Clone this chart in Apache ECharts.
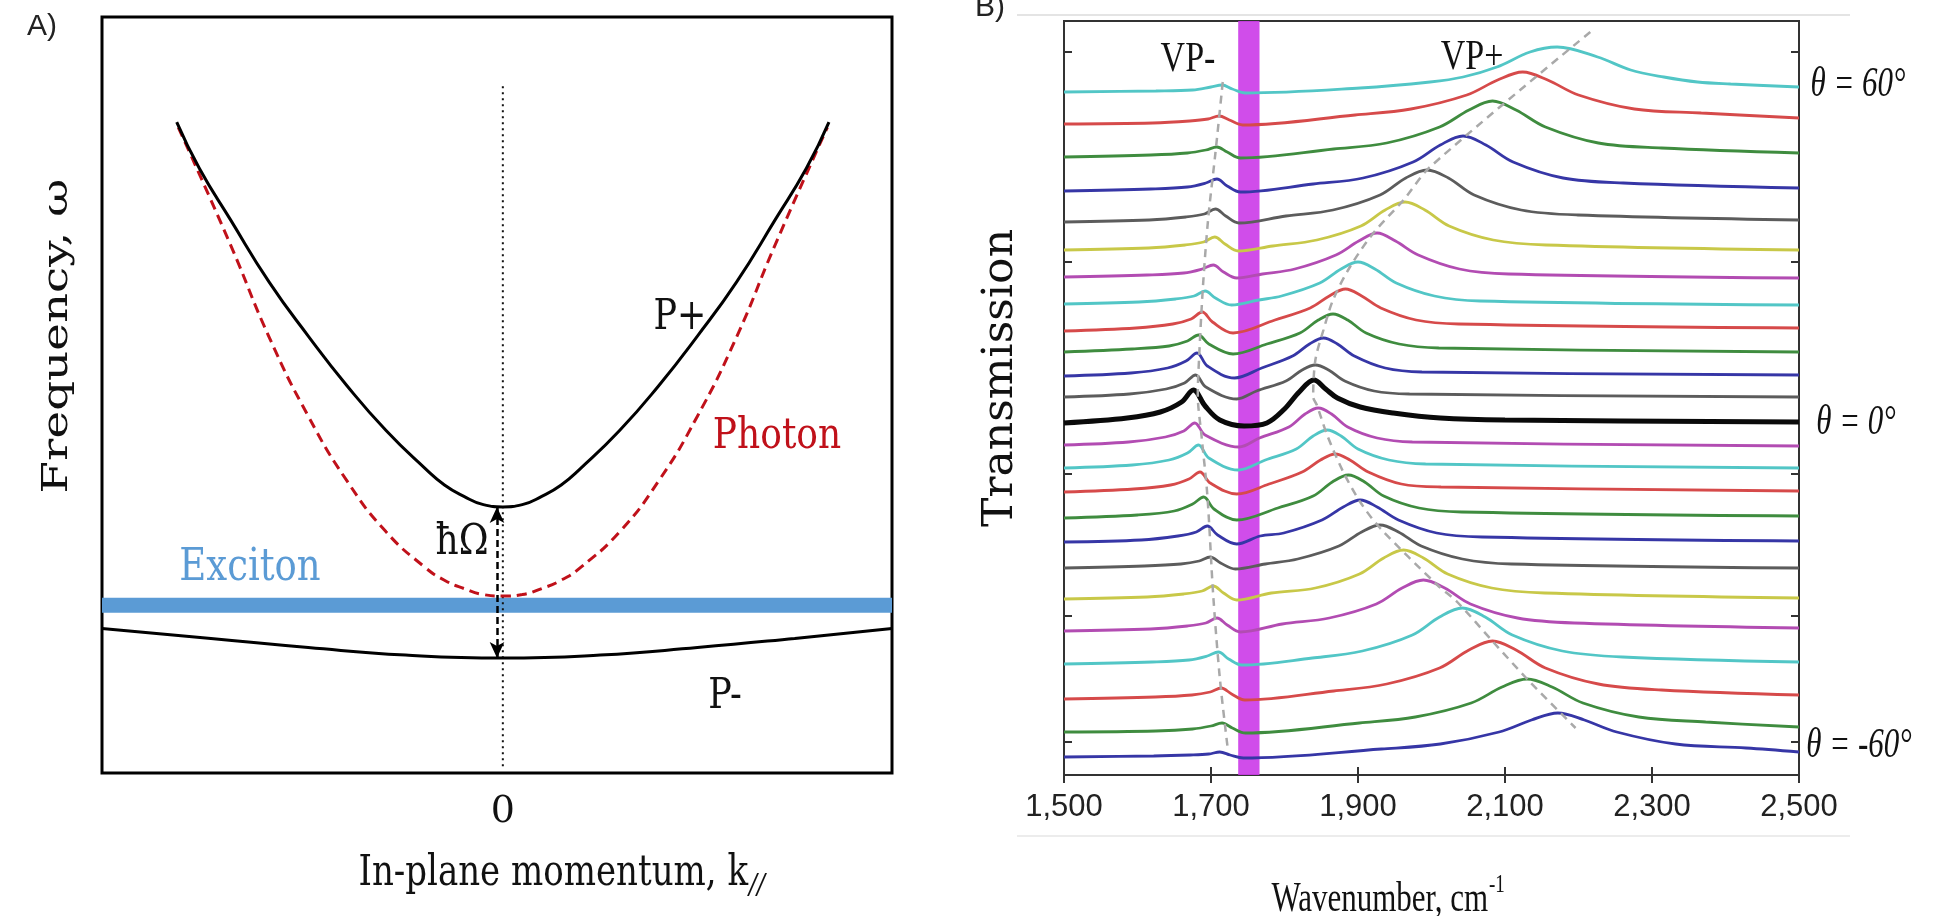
<!DOCTYPE html>
<html>
<head>
<meta charset="utf-8">
<script src="https://cdn.jsdelivr.net/npm/echarts@6.0.0/dist/echarts.min.js"></script>
<style>
  html, body { margin: 0; padding: 0; background: #fff; }
  #chart { width: 1950px; height: 916px; }
</style>
</head>
<body>
<div id="chart"></div>
<script>
// ---- panel A: schematic dispersion (arbitrary units) ----
var plusK = [-0.838, -0.78, -0.7, -0.6, -0.5, -0.4, -0.3, -0.2, -0.15, -0.1, -0.05, 0, 0.05, 0.1, 0.15, 0.2, 0.3, 0.4, 0.5, 0.6, 0.7, 0.78, 0.838];
var plusW = [86.1, 80.0, 73.2, 64.9, 57.8, 51.2, 45.3, 40.3, 38.1, 36.6, 35.5, 35.2, 35.5, 36.6, 38.1, 40.3, 45.3, 51.2, 57.8, 64.9, 73.2, 80.0, 86.1];
var photonK = [-0.834, -0.7, -0.6, -0.5, -0.4, -0.3, -0.2, -0.15, -0.1, -0.05, 0, 0.05, 0.1, 0.15, 0.2, 0.3, 0.4, 0.5, 0.6, 0.7, 0.834];
var photonW = [85.4, 69.9, 57.6, 47.2, 38.6, 31.9, 27.2, 25.5, 24.4, 23.6, 23.4, 23.6, 24.4, 25.5, 27.2, 31.9, 38.6, 47.2, 57.6, 69.9, 85.4];
var minusK = [-1.03, -0.75, -0.5, -0.25, 0, 0.25, 0.5, 0.75, 1];
var minusW = [19.1, 17.8, 16.6, 15.6, 15.2, 15.6, 16.6, 17.8, 19.1];
var excitonW = 22.2;
var rabiK = -0.015;        // the ħΩ arrow, from P+ min down to P- min
var rabiTop = 35.2, rabiBottom = 15.2;

// ---- panel B: transmission spectra, offset per angle ----
var angles = [60, 55, 50, 45, 40, 35, 30, 25, 20, 15, 10, 5, 0, -5, -10, -15, -20, -25, -30, -35, -40, -45, -50, -55, -60];
var colors = ['#52c6c6', '#d64a4a', '#3f8c3f', '#3636a6', '#5c5c5c', '#c8c848', '#b24cb2',
              '#52c6c6', '#d64a4a', '#3f8c3f', '#3636a6', '#5c5c5c', '#0a0a0a', '#b24cb2',
              '#52c6c6', '#d64a4a', '#3f8c3f', '#3636a6', '#5c5c5c', '#c8c848', '#b24cb2',
              '#52c6c6', '#d64a4a', '#3f8c3f', '#3636a6'];

var s60 = [[1500,68.3],[1625,68.4],[1675,68.5],[1700,68.8],[1715,69.0],[1729,68.6],[1747,68.2],[1903,68.7],[1998,69.3],[2043,69.8],[2089,70.8],[2134,72.3],[2171,72.8],[2226,71.8],[2271,70.5],[2316,69.8],[2362,69.3],[2407,69.1],[2500,68.8]];
var s55 = [[1500,65.1],[1621,65.2],[1671,65.4],[1696,65.6],[1711,65.9],[1725,65.5],[1743,65.0],[1896,66.0],[1972,66.6],[2048,68.0],[2090,69.5],[2124,70.3],[2158,69.5],[2200,68.0],[2276,66.6],[2367,66.2],[2500,65.7]];
var s50 = [[1500,61.8],[1618,62.0],[1668,62.2],[1693,62.5],[1708,62.8],[1722,62.3],[1740,61.7],[1867,62.6],[1939,63.2],[2011,64.8],[2051,66.5],[2083,67.4],[2115,66.5],[2155,64.8],[2227,63.2],[2313,62.7],[2500,62.2]];
var s45 = [[1500,58.4],[1618,58.6],[1668,58.8],[1693,59.2],[1708,59.6],[1722,58.9],[1740,58.3],[1839,59.1],[1907,59.7],[1975,61.3],[2012,63.0],[2043,63.9],[2074,63.0],[2111,61.3],[2179,59.7],[2261,59.2],[2500,58.7]];
var s40 = [[1500,55.3],[1616,55.5],[1666,55.8],[1691,56.1],[1706,56.6],[1720,55.9],[1738,55.2],[1802,55.9],[1866,56.5],[1930,58.0],[1965,59.7],[1994,60.5],[2023,59.7],[2058,58.0],[2122,56.5],[2199,56.0],[2500,55.5]];
var s35 = [[1500,52.5],[1615,52.7],[1665,53.0],[1690,53.3],[1705,53.8],[1719,53.1],[1737,52.4],[1784,52.9],[1844,53.5],[1904,54.9],[1937,56.5],[1964,57.3],[1991,56.5],[2024,54.9],[2084,53.5],[2156,53.0],[2500,52.5]];
var s30 = [[1500,49.8],[1613,50.0],[1663,50.2],[1688,50.6],[1703,51.0],[1717,50.3],[1735,49.7],[1770,50.1],[1814,50.6],[1870,52.0],[1901,53.4],[1926,54.2],[1951,53.4],[1982,52.0],[2038,50.6],[2105,50.1],[2500,49.7]];
var s25 = [[1500,47.1],[1602,47.3],[1652,47.6],[1677,47.9],[1692,48.4],[1706,47.7],[1728,47.0],[1765,47.5],[1796,47.9],[1848,49.2],[1877,50.6],[1900,51.3],[1923,50.6],[1952,49.2],[2004,47.9],[2066,47.4],[2500,47.0]];
var s20 = [[1500,44.4],[1598,44.7],[1648,45.1],[1673,45.6],[1688,46.3],[1702,45.3],[1730,44.2],[1787,45.5],[1835,46.7],[1861,47.9],[1883,48.6],[1905,47.9],[1931,46.7],[1979,45.5],[2037,45.1],[2500,44.7]];
var s15 = [[1500,42.3],[1593,42.6],[1643,42.9],[1668,43.4],[1683,44.0],[1697,43.1],[1730,42.1],[1776,43.1],[1821,44.2],[1846,45.5],[1866,46.1],[1886,45.5],[1911,44.2],[1956,43.1],[2010,42.7],[2500,42.3]];
var s10 = [[1500,39.9],[1591,40.2],[1641,40.7],[1666,41.4],[1681,42.2],[1695,40.9],[1732,39.7],[1769,40.7],[1811,41.9],[1834,43.1],[1853,43.7],[1872,43.1],[1895,41.9],[1937,40.7],[1987,40.3],[2500,40.0]];
var s5 = [[1500,37.8],[1589,38.1],[1639,38.6],[1664,39.2],[1679,40.0],[1693,38.8],[1735,37.6],[1762,38.4],[1802,39.4],[1824,40.5],[1842,41.0],[1860,40.5],[1882,39.4],[1922,38.4],[1970,38.1],[2500,37.8]];
var s0 = [[1500,35.2],[1586,35.7],[1631,36.3],[1660,37.3],[1676,38.5],[1692,36.9],[1712,35.5],[1745,34.9],[1776,35.2],[1800,36.6],[1820,38.3],[1840,39.5],[1856,38.6],[1872,37.7],[1903,36.8],[1948,36.2],[2012,35.7],[2100,35.5],[2500,35.3]];
var sm5 = [[1500,33.0],[1588,33.3],[1638,33.8],[1663,34.4],[1678,35.2],[1692,34.0],[1738,32.8],[1766,33.7],[1806,34.8],[1828,36.1],[1846,36.7],[1864,36.1],[1886,34.8],[1926,33.7],[1974,33.3],[2500,32.9]];
var sm10 = [[1500,30.7],[1593,31.0],[1643,31.5],[1668,32.2],[1683,33.0],[1697,31.7],[1737,30.5],[1774,31.5],[1816,32.6],[1839,33.9],[1858,34.5],[1877,33.9],[1900,32.6],[1942,31.5],[1992,31.1],[2500,30.7]];
var sm15 = [[1500,28.3],[1595,28.6],[1645,29.0],[1670,29.6],[1685,30.3],[1699,29.2],[1735,28.1],[1779,29.1],[1824,30.3],[1849,31.5],[1869,32.1],[1889,31.5],[1914,30.3],[1959,29.1],[2013,28.8],[2500,28.4]];
var sm20 = [[1500,25.7],[1600,26.0],[1650,26.4],[1675,27.1],[1690,27.8],[1704,26.6],[1735,25.5],[1791,26.7],[1839,27.9],[1865,29.3],[1887,30.0],[1909,29.3],[1935,27.9],[1983,26.7],[2041,26.3],[2500,25.9]];
var sm25 = [[1500,23.3],[1605,23.5],[1655,23.9],[1680,24.3],[1695,24.9],[1709,24.0],[1735,23.1],[1767,23.9],[1799,24.2],[1851,25.5],[1880,26.8],[1903,27.5],[1926,26.8],[1955,25.5],[2007,24.2],[2069,23.8],[2500,23.4]];
var sm30 = [[1500,20.7],[1609,20.9],[1659,21.1],[1684,21.4],[1699,21.8],[1713,21.2],[1733,20.6],[1774,21.1],[1818,21.6],[1874,22.9],[1905,24.3],[1930,25.0],[1955,24.3],[1986,22.9],[2042,21.6],[2109,21.1],[2500,20.7]];
var sm35 = [[1500,17.6],[1613,17.8],[1663,18.1],[1688,18.4],[1703,18.9],[1717,18.2],[1735,17.5],[1782,18.2],[1842,18.7],[1902,20.1],[1935,21.7],[1962,22.5],[1989,21.7],[2022,20.1],[2082,18.7],[2154,18.2],[2500,17.7]];
var sm40 = [[1500,14.4],[1618,14.6],[1668,14.9],[1693,15.2],[1708,15.7],[1722,15.0],[1740,14.3],[1797,15.1],[1861,15.7],[1925,17.1],[1960,18.7],[1989,19.5],[2018,18.7],[2053,17.1],[2117,15.7],[2194,15.2],[2500,14.7]];
var sm45 = [[1500,11.1],[1620,11.3],[1670,11.5],[1695,11.9],[1710,12.3],[1724,11.6],[1742,11.0],[1838,11.7],[1906,12.4],[1974,14.0],[2011,15.8],[2042,16.7],[2073,15.8],[2110,14.0],[2178,12.4],[2260,11.8],[2500,11.3]];
var sm50 = [[1500,7.6],[1624,7.8],[1674,8.0],[1699,8.3],[1714,8.7],[1728,8.1],[1746,7.5],[1867,8.4],[1939,9.1],[2011,10.7],[2051,12.5],[2083,13.4],[2115,12.5],[2155,10.7],[2227,9.1],[2313,8.5],[2500,8.0]];
var sm55 = [[1500,4.3],[1625,4.4],[1675,4.6],[1700,4.9],[1715,5.2],[1729,4.7],[1747,4.2],[1902,5.2],[1978,5.8],[2054,7.2],[2096,8.8],[2130,9.6],[2164,8.8],[2206,7.2],[2282,5.8],[2373,5.3],[2500,4.8]];
var sm60 = [[1500,1.8],[1622,1.9],[1672,2.0],[1697,2.1],[1712,2.3],[1726,2.0],[1744,1.7],[1932,2.6],[2012,3.1],[2092,4.3],[2136,5.5],[2172,6.2],[2208,5.5],[2252,4.3],[2332,3.1],[2428,2.7],[2500,2.3]];

var spectra = [s60, s55, s50, s45, s40, s35, s30, s25, s20, s15, s10, s5, s0,
               sm5, sm10, sm15, sm20, sm25, sm30, sm35, sm40, sm45, sm50, sm55, sm60];

// guide lines following the two polariton peaks
var vpMinusGuide = [[1716,69.3],[1706,62.2],[1696,55.5],[1689,48.8],[1684,42.0],[1682,38.0],[1687,34.0],[1695,28.0],[1703,18.0],[1712,9.7],[1723,2.5]];
var vpPlusGuide = [[2216,74.3],[1998,60.8],[1962,57.5],[1921,54.2],[1889,50.8],[1866,47.5],[1853,44.5],[1842,41.5],[1839,37.8],[1844,37.0],[1858,34.0],[1880,30.3],[1903,27.3],[1930,24.7],[2008,19.0],[2035,17.3],[2084,13.3],[2134,9.3],[2196,4.7]];

var bandFrom = 1737, bandTo = 1766;     // magenta band
var yTickValues = [72.3, 51.3, 30.1, 15.9, 3.3];

function zip(xs, ys) {
    return xs.map(function (x, i) { return [x, ys[i]]; });
}

// text helper; sx/sy stretch the glyphs like the (stretched) original figure
function txt(x, y, text, size, family, fill, opts) {
    opts = opts || {};
    return {
        type: 'text', x: x, y: y, rotation: opts.rot || 0, silent: true,
        scaleX: opts.sx || 1, scaleY: opts.sy || 1,
        style: {
            text: text, fontSize: size, fontFamily: family, fill: fill,
            fontStyle: opts.italic ? 'italic' : 'normal',
            textAlign: opts.align || 'center', textVerticalAlign: 'middle'
        }
    };
}

var serifA = 'DejaVu Serif';
var serifB = 'Liberation Serif';

var series = [
    // panel A
    {type: 'line', xAxisIndex: 0, yAxisIndex: 0, data: [[-1.03, excitonW], [1, excitonW]], symbol: 'none',
        lineStyle: {color: '#5b9bd5', width: 15, cap: 'butt'}, z: 1},
    {type: 'line', xAxisIndex: 0, yAxisIndex: 0, data: [[0, 0.9], [0, 90.9]], symbol: 'none',
        lineStyle: {color: '#111', width: 2, type: [2, 4]}, z: 2},
    {type: 'line', xAxisIndex: 0, yAxisIndex: 0, data: zip(photonK, photonW), symbol: 'none', smooth: 0.5,
        lineStyle: {color: '#c0111a', width: 3, type: [10, 6]}, z: 3},
    {type: 'line', xAxisIndex: 0, yAxisIndex: 0, data: zip(plusK, plusW), symbol: 'none', smooth: 0.5,
        lineStyle: {color: '#000', width: 3}, z: 4},
    {type: 'line', xAxisIndex: 0, yAxisIndex: 0, data: zip(minusK, minusW), symbol: 'none', smooth: 0.5,
        lineStyle: {color: '#000', width: 3}, z: 4,
        markLine: {
            silent: true, symbol: ['arrow', 'arrow'], symbolSize: [11, 16], label: {show: false},
            lineStyle: {color: '#000', width: 2.5, type: [7, 4]},
            data: [[{coord: [rabiK, rabiTop]}, {coord: [rabiK, rabiBottom]}]]
        }}
];

spectra.forEach(function (pts, i) {
    series.push({
        type: 'line', name: angles[i] + '°', xAxisIndex: 1, yAxisIndex: 1,
        data: pts, symbol: 'none', smooth: 0.35,
        lineStyle: {color: colors[i], width: angles[i] === 0 ? 5 : 2.8}, z: 2
    });
});

series.push({
    type: 'line', xAxisIndex: 1, yAxisIndex: 1, data: [], z: 5,
    markArea: {silent: true, itemStyle: {color: '#cc3ee8', opacity: 0.92},
        data: [[{xAxis: bandFrom}, {xAxis: bandTo}]]}
});
series.push({type: 'line', xAxisIndex: 1, yAxisIndex: 1, data: vpMinusGuide, symbol: 'none', smooth: 0.3,
    lineStyle: {color: '#a9a9a9', width: 2.5, type: [8, 6]}, z: 6});
series.push({type: 'line', xAxisIndex: 1, yAxisIndex: 1, data: vpPlusGuide, symbol: 'none', smooth: 0.3,
    lineStyle: {color: '#a9a9a9', width: 2.5, type: [8, 6]}, z: 6});

var tickB = {show: true, inside: true, length: 8, lineStyle: {color: '#333', width: 2}};

var option = {
    animation: false,
    backgroundColor: '#fff',
    grid: [
        {left: 102, top: 17, width: 790, height: 756, show: true, borderColor: '#000', borderWidth: 3},
        {left: 1064, top: 21, width: 735, height: 754, show: true, borderColor: '#333', borderWidth: 2}
    ],
    xAxis: [
        {gridIndex: 0, type: 'value', min: -1.03, max: 1, axisLine: {show: false}, axisTick: {show: false},
            splitLine: {show: false},
            axisLabel: {customValues: [0], margin: 20, fontSize: 38, fontFamily: serifA, color: '#111'}},
        {gridIndex: 1, type: 'value', min: 1500, max: 2500, interval: 200, axisLine: {show: false},
            axisTick: tickB, splitLine: {show: false},
            axisLabel: {margin: 17, fontSize: 31, fontFamily: 'Liberation Sans', color: '#222',
                formatter: function (v) { return v.toLocaleString('en-US'); }}},
        {gridIndex: 1, type: 'value', position: 'top', min: 1500, max: 2500, interval: 200,
            axisLine: {show: false}, axisTick: tickB, splitLine: {show: false}, axisLabel: {show: false}}
    ],
    yAxis: [
        {gridIndex: 0, type: 'value', min: 0, max: 100, show: false, splitLine: {show: false}},
        {gridIndex: 1, type: 'value', min: 0, max: 75.4, axisLine: {show: false}, splitLine: {show: false},
            axisTick: Object.assign({customValues: yTickValues}, tickB), axisLabel: {show: false}},
        {gridIndex: 1, type: 'value', position: 'right', min: 0, max: 75.4, axisLine: {show: false},
            splitLine: {show: false},
            axisTick: Object.assign({customValues: yTickValues}, tickB), axisLabel: {show: false}}
    ],
    graphic: [
        {type: 'line', silent: true, shape: {x1: 1017, y1: 15, x2: 1850, y2: 15}, style: {stroke: '#e4e4e4', lineWidth: 2}},
        {type: 'line', silent: true, shape: {x1: 1017, y1: 836, x2: 1850, y2: 836}, style: {stroke: '#ececec', lineWidth: 2}},
        txt(42, 27, 'A)', 30, 'Liberation Sans', '#222'),
        txt(990, 8, 'B)', 30, 'Liberation Sans', '#222'),
        txt(58, 336, 'Frequency, ω', 36, serifA, '#111', {rot: Math.PI / 2, sx: 1.3}),
        txt(680, 318, 'P+', 35, serifA, '#111', {sy: 1.2}),
        txt(777, 437, 'Photon', 36, serifA, '#c0111a', {sy: 1.2}),
        txt(462, 543, 'ħΩ', 36, serifA, '#111', {sy: 1.2}),
        txt(250, 568, 'Exciton', 37, serifA, '#5b9bd5', {sy: 1.2}),
        txt(725, 697, 'P-', 35, serifA, '#111', {sy: 1.2}),
        txt(748, 874, 'In-plane momentum, k', 34, serifA, '#111', {align: 'right', sy: 1.25}),
        txt(749, 887, '//', 24, serifA, '#111', {align: 'left', italic: true, sy: 1.2}),
        txt(1001, 378, 'Transmission', 42, serifA, '#111', {rot: Math.PI / 2, sx: 1.05}),
        txt(1488, 900, 'Wavenumber, cm', 31, serifB, '#111', {align: 'right', sy: 1.35}),
        txt(1489, 886, '-1', 19, serifB, '#111', {align: 'left', sy: 1.3}),
        txt(1188, 60, 'VP-', 34, serifB, '#111', {sy: 1.25}),
        txt(1472, 58, 'VP+', 34, serifB, '#111', {sy: 1.25}),
        txt(1858, 85, 'θ = 60°', 31, serifB, '#111', {italic: true, sy: 1.35}),
        txt(1856, 423, 'θ = 0°', 31, serifB, '#111', {italic: true, sy: 1.35}),
        txt(1859, 746, 'θ = -60°', 31, serifB, '#111', {italic: true, sy: 1.35})
    ],
    series: series
};

var chart = echarts.init(document.getElementById('chart'));
chart.setOption(option);
</script>
</body>
</html>
